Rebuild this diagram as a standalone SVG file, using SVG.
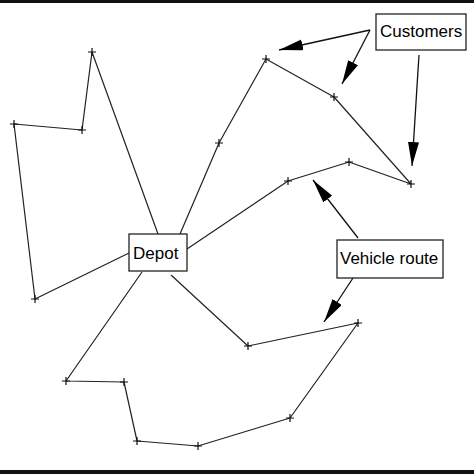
<svg xmlns="http://www.w3.org/2000/svg" width="474" height="474" viewBox="0 0 474 474">
<defs>
<style>
.route{fill:none;stroke:#222;stroke-width:1.2;stroke-linejoin:round}
.cross{stroke:#111;stroke-width:1.2}
.box{fill:#fff;stroke:#222;stroke-width:1.3}
.lbl{font-family:"Liberation Sans",Arial,sans-serif;font-size:17px;fill:#000}
.call{fill:none;stroke:#111;stroke-width:1.3}
</style>
<marker id="ah" markerUnits="userSpaceOnUse" markerWidth="26" markerHeight="12" refX="24" refY="5.5" orient="auto">
<path d="M0,0 L24,5.5 L0,11 Z" fill="#000"/>
</marker>
<path id="cr" d="M-4,0 H4 M0,-4 V4"/>
</defs>
<rect x="0" y="0" width="474" height="474" fill="#fff"/>
<rect x="0" y="0" width="474" height="3" fill="#111"/>
<rect x="0" y="470" width="474" height="4" fill="#111"/>
<g id="connectors">
<polyline class="route" points="158,234 92,52 82,130 14,124 35,299 129,253"/>
<polyline class="route" points="180,234 219,143 266,59 334,97 411,184 349,162 288,181 187,249"/>
<polyline class="route" points="142,272 66,381 124,382 137,441 198,446 290,418 358,323 248,346 171,275"/>
<line class="call" x1="370" y1="30" x2="279" y2="50" marker-end="url(#ah)"/>
<line class="call" x1="370" y1="30" x2="342" y2="84" marker-end="url(#ah)"/>
<line class="call" x1="419" y1="55" x2="412" y2="166" marker-end="url(#ah)"/>
<line class="call" x1="358" y1="238" x2="313" y2="180" marker-end="url(#ah)"/>
<line class="call" x1="353" y1="278" x2="324" y2="322" marker-end="url(#ah)"/>
</g>
<g id="customers-points" class="cross">
<use href="#cr" x="92" y="52"/>
<use href="#cr" x="82" y="130"/>
<use href="#cr" x="14" y="124"/>
<use href="#cr" x="35" y="299"/>
<use href="#cr" x="219" y="143"/>
<use href="#cr" x="266" y="59"/>
<use href="#cr" x="334" y="97"/>
<use href="#cr" x="411" y="184"/>
<use href="#cr" x="349" y="162"/>
<use href="#cr" x="288" y="181"/>
<use href="#cr" x="66" y="381"/>
<use href="#cr" x="124" y="382"/>
<use href="#cr" x="137" y="441"/>
<use href="#cr" x="198" y="446"/>
<use href="#cr" x="290" y="418"/>
<use href="#cr" x="358" y="323"/>
<use href="#cr" x="248" y="346"/>
</g>
<g id="depot">
<rect class="box" x="129" y="234" width="58" height="37"/>
<text class="lbl" x="133" y="259">Depot</text>
</g>
<g id="customers">
<rect class="box" x="376" y="14" width="90" height="36"/>
<text class="lbl" x="380" y="37">Customers</text>
</g>
<g id="vehicle-route">
<rect class="box" x="337" y="240" width="106" height="38"/>
<text class="lbl" x="340" y="264">Vehicle route</text>
</g>
</svg>
